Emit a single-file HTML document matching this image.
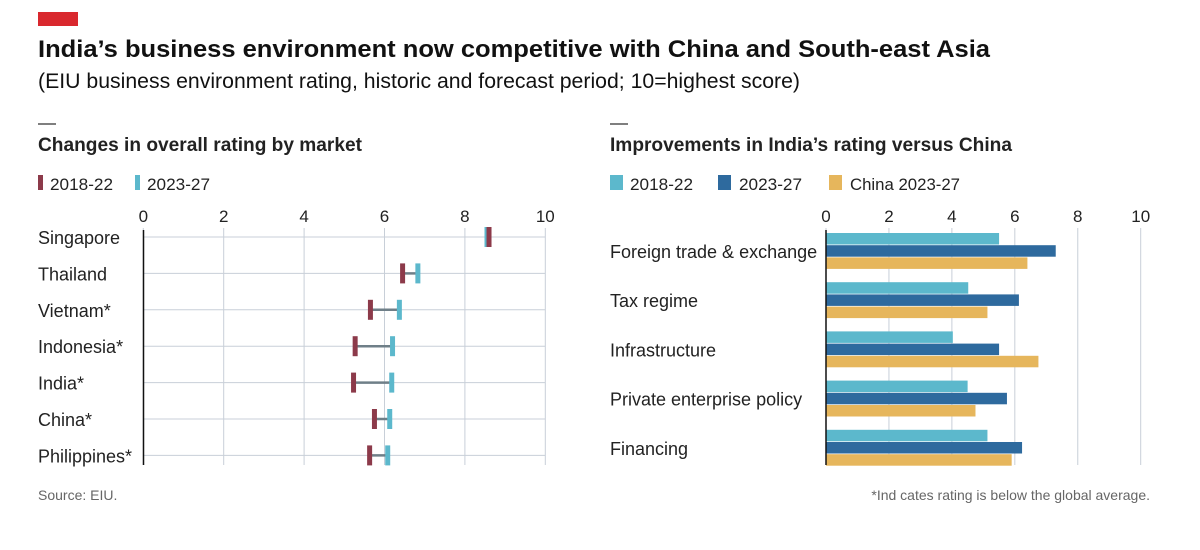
<!DOCTYPE html>
<html><head><meta charset="utf-8"><style>
body{margin:0;background:#fff;}
svg{display:block;font-family:"Liberation Sans",sans-serif;}
</style></head><body>
<svg width="1200" height="550" viewBox="0 0 1200 550" id="chart">
<rect x="38" y="12" width="40" height="14" fill="#d9282e"/>
<text x="38" y="57" font-size="24" font-weight="bold" fill="#111" textLength="952" lengthAdjust="spacingAndGlyphs">India’s business environment now competitive with China and South-east Asia</text>
<text x="38" y="88" font-size="21" fill="#111" textLength="762" lengthAdjust="spacingAndGlyphs">(EIU business environment rating, historic and forecast period; 10=highest score)</text>
<line x1="38" y1="124" x2="56" y2="124" stroke="#333" stroke-width="1.2"/>
<line x1="610" y1="124" x2="628" y2="124" stroke="#333" stroke-width="1.2"/>
<text x="38" y="151" font-size="19" font-weight="bold" fill="#222" textLength="324" lengthAdjust="spacingAndGlyphs">Changes in overall rating by market</text>
<text x="610" y="151" font-size="19" font-weight="bold" fill="#222" textLength="402" lengthAdjust="spacingAndGlyphs">Improvements in India’s rating versus China</text>
<g>
<rect x="38" y="175" width="5" height="15" fill="#8c3a4a"/><text x="50" y="190" font-size="17" fill="#222" textLength="63" lengthAdjust="spacingAndGlyphs">2018-22</text>
<rect x="135" y="175" width="5" height="15" fill="#5cb8cc"/><text x="147" y="190" font-size="17" fill="#222" textLength="63" lengthAdjust="spacingAndGlyphs">2023-27</text>
</g>
<g>
<rect x="610" y="175" width="13" height="15" fill="#5cb8cc"/><text x="630" y="190" font-size="17" fill="#222" textLength="63" lengthAdjust="spacingAndGlyphs">2018-22</text>
<rect x="718" y="175" width="13" height="15" fill="#2e6a9e"/><text x="739" y="190" font-size="17" fill="#222" textLength="63" lengthAdjust="spacingAndGlyphs">2023-27</text>
<rect x="829" y="175" width="13" height="15" fill="#e6b65c"/><text x="850" y="190" font-size="17" fill="#222" textLength="110" lengthAdjust="spacingAndGlyphs">China 2023-27</text>
</g>
<g id="left"></g>
<g id="right"></g>
<text x="38" y="500" font-size="14" fill="#666">Source: EIU.</text>
<text x="1150" y="500" font-size="14" fill="#666" text-anchor="end">*Ind cates rating is below the global average.</text>
</svg>
<script>
const markets = ["Singapore","Thailand","Vietnam*","Indonesia*","India*","China*","Philippines*"];
const rating2018 = [8.6,6.45,5.65,5.27,5.23,5.75,5.63];
const rating2023 = [8.55,6.83,6.37,6.2,6.18,6.13,6.08];
const ticks = [0,2,4,6,8,10];
const categories = ["Foreign trade & exchange","Tax regime","Infrastructure","Private enterprise policy","Financing"];
const india2018 = [5.5,4.52,4.03,4.5,5.13];
const india2023 = [7.3,6.13,5.5,5.75,6.23];
const china2023 = [6.4,5.13,6.75,4.75,5.9];

const NS="http://www.w3.org/2000/svg";
function mk(parent,tag,attrs,text){const e=document.createElementNS(NS,tag);for(const k in attrs)e.setAttribute(k,attrs[k]);if(text!==undefined)e.textContent=text;parent.appendChild(e);return e;}

// left chart
const L=document.getElementById('left');
const lx=v=>143.3+v*40.2;
const ly=i=>237+i*36.4;
ticks.forEach(t=>{
  const g=mk(L,'line',{x1:lx(t),x2:lx(t),y1:228,y2:465,stroke:"#c8cfd8","stroke-width":1});
  
  
  const tx=mk(L,'text',{x:lx(t),y:222,"font-size":17,fill:"#222","text-anchor":"middle"},t);
  
  
});
markets.forEach((m,i)=>{
  const y=ly(i);
  mk(L,'line',{x1:143,x2:545,y1:y,y2:y,stroke:"#c8cfd8","stroke-width":1});
  const lb=mk(L,'text',{x:38,y:y+7,"font-size":18,fill:"#222"},m);
  
  
  const a=lx(rating2018[i]),b=lx(rating2023[i]);
  mk(L,'line',{x1:a,x2:b,y1:y,y2:y,stroke:"#6f7f88","stroke-width":2.5});
  const r2=mk(L,'rect',{x:b-2.5,y:y-10,width:5,height:20,fill:"#5cb8cc"});
  
  
  const r1=mk(L,'rect',{x:a-2.5,y:y-10,width:5,height:20,fill:"#8c3a4a"});
  
  
});
mk(L,'line',{x1:143.5,x2:143.5,y1:230,y2:465,stroke:"#111","stroke-width":1.5});

// right chart
const R=document.getElementById('right');
const rx=v=>826+v*31.47;
const gy=i=>233+i*49.2;
ticks.forEach(t=>{
  const g=mk(R,'line',{x1:rx(t),x2:rx(t),y1:228,y2:465,stroke:"#c8cfd8","stroke-width":1});
  
  
  const tx=mk(R,'text',{x:rx(t),y:222,"font-size":17,fill:"#222","text-anchor":"middle"},t);
  
  
});
categories.forEach((c,i)=>{
  const y=gy(i);
  const lb=mk(R,'text',{x:610,y:y+25,"font-size":18,fill:"#222"},c);
  
  
  const series=[[india2018,"#5cb8cc","bar-india-2018-22"],[india2023,"#2e6a9e","bar-india-2023-27"],[china2023,"#e6b65c","bar-china-2023-27"]];
  series.forEach((s,j)=>{
    const r=mk(R,'rect',{x:rx(0),y:y+j*12.2,width:rx(s[0][i])-rx(0),height:11.5,fill:s[1]});
    
    
  });
});
mk(R,'line',{x1:826,x2:826,y1:230,y2:465,stroke:"#111","stroke-width":1.5});
</script>
</body></html>
